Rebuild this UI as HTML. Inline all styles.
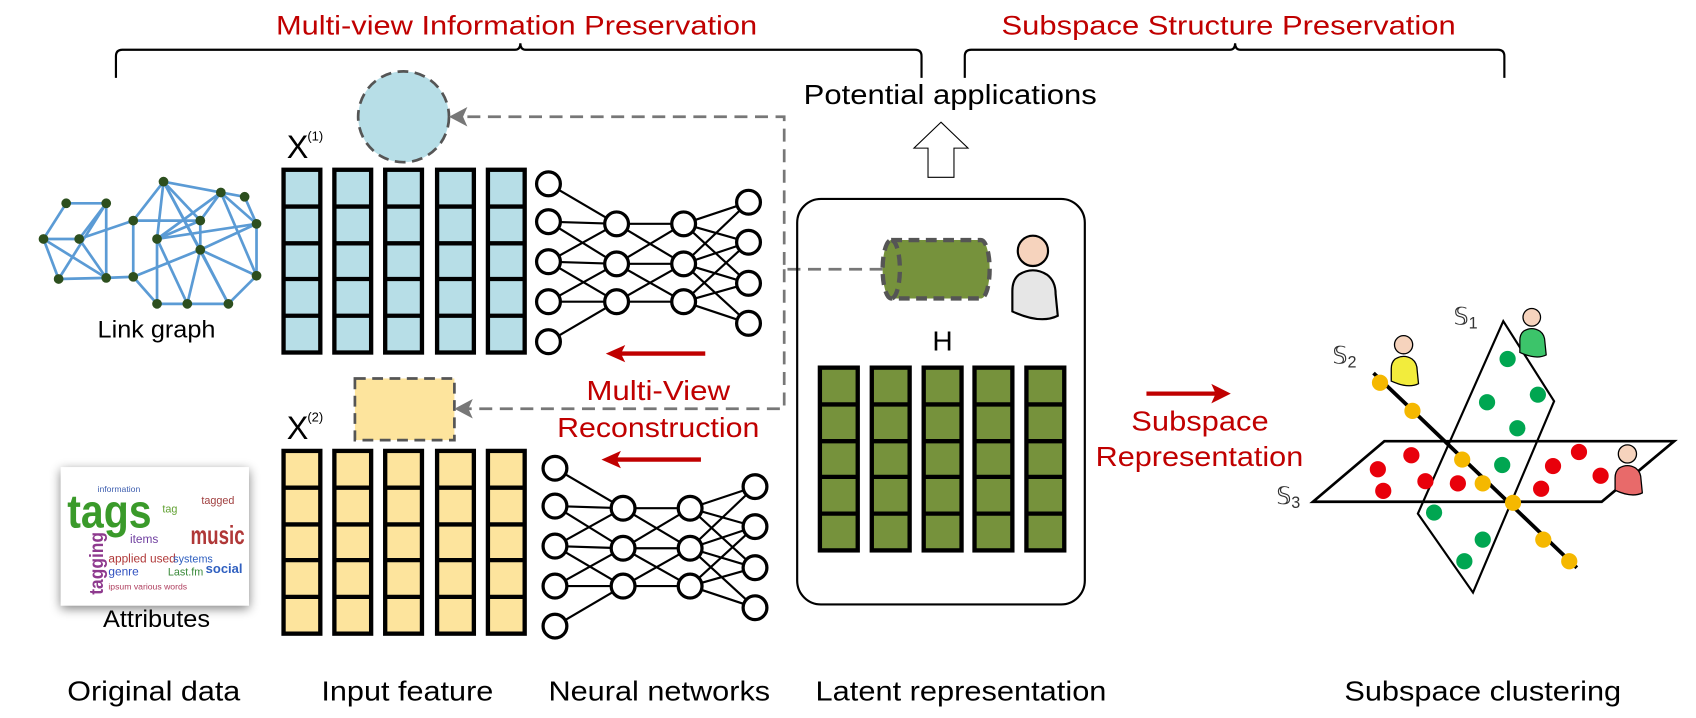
<!DOCTYPE html>
<html><head><meta charset="utf-8"><style>
html,body{margin:0;padding:0;background:#fff;}
svg{display:block;font-family:"Liberation Sans",Arial,sans-serif;}
</style></head><body>
<svg width="1696" height="718" viewBox="0 0 1568 664" xmlns="http://www.w3.org/2000/svg">
<defs>
<g id="colB"><rect x="0" y="0" width="34" height="169" fill="#b7dee7" stroke="#000" stroke-width="4"/><path d="M0,34H34M0,68H34M0,101H34M0,135H34" stroke="#000" stroke-width="4"/></g>
<g id="colY"><rect x="0" y="0" width="34" height="169" fill="#fde49d" stroke="#000" stroke-width="4"/><path d="M0,34H34M0,68H34M0,101H34M0,135H34" stroke="#000" stroke-width="4"/></g>
<g id="colG"><rect x="0" y="0" width="35" height="169" fill="#76923c" stroke="#000" stroke-width="4"/><path d="M0,34H35M0,68H35M0,101H35M0,135H35" stroke="#000" stroke-width="4"/></g>
<g id="nnet">
<g stroke="#000" stroke-width="2">
<line x1="507" y1="170" x2="570" y2="207"/>
<line x1="507" y1="205" x2="570" y2="207"/><line x1="507" y1="205" x2="570" y2="244"/>
<line x1="507" y1="242" x2="570" y2="207"/><line x1="507" y1="242" x2="570" y2="244"/><line x1="507" y1="242" x2="570" y2="279"/>
<line x1="507" y1="279" x2="570" y2="244"/><line x1="507" y1="279" x2="570" y2="279"/>
<line x1="507" y1="316" x2="570" y2="279"/>
<line x1="570" y1="207" x2="632" y2="207"/><line x1="570" y1="207" x2="632" y2="244"/>
<line x1="570" y1="244" x2="632" y2="207"/><line x1="570" y1="244" x2="632" y2="244"/><line x1="570" y1="244" x2="632" y2="279"/>
<line x1="570" y1="279" x2="632" y2="244"/><line x1="570" y1="279" x2="632" y2="279"/>
<line x1="632" y1="207" x2="692" y2="187"/><line x1="632" y1="207" x2="692" y2="224"/><line x1="632" y1="207" x2="692" y2="262"/>
<line x1="632" y1="244" x2="692" y2="187"/><line x1="632" y1="244" x2="692" y2="224"/><line x1="632" y1="244" x2="692" y2="262"/><line x1="632" y1="244" x2="692" y2="299"/>
<line x1="632" y1="279" x2="692" y2="224"/><line x1="632" y1="279" x2="692" y2="262"/><line x1="632" y1="279" x2="692" y2="299"/>
</g>
<g fill="#fff" stroke="#000" stroke-width="3">
<circle cx="507" cy="170" r="11"/><circle cx="507" cy="205" r="11"/><circle cx="507" cy="242" r="11"/><circle cx="507" cy="279" r="11"/><circle cx="507" cy="316" r="11"/>
<circle cx="570" cy="207" r="11"/><circle cx="570" cy="244" r="11"/><circle cx="570" cy="279" r="11"/>
<circle cx="632" cy="207" r="11"/><circle cx="632" cy="244" r="11"/><circle cx="632" cy="279" r="11"/>
<circle cx="692" cy="187" r="11"/><circle cx="692" cy="224" r="11"/><circle cx="692" cy="262" r="11"/><circle cx="692" cy="299" r="11"/>
</g>
</g>
<g id="person">
<path d="M10,40 Q23,32 36,40 Q44,46 44,58 L46,78 Q30,86 4,74 L4,55 Q4,45 10,40 Z" stroke="#000" stroke-width="2"/>
<circle cx="23" cy="18" r="14" fill="#f6d3bd" stroke="#000" stroke-width="2"/>
</g>
<filter id="sh" x="-20%" y="-20%" width="140%" height="140%"><feGaussianBlur in="SourceAlpha" stdDeviation="5"/><feOffset dx="0" dy="3"/><feComponentTransfer><feFuncA type="linear" slope="0.5"/></feComponentTransfer><feMerge><feMergeNode/><feMergeNode in="SourceGraphic"/></feMerge></filter>
</defs>

<text x="255" y="32" font-size="25" fill="#c00000" textLength="445" lengthAdjust="spacingAndGlyphs">Multi-view Information Preservation</text>
<text x="926" y="32" font-size="25" fill="#c00000" textLength="420" lengthAdjust="spacingAndGlyphs">Subspace Structure Preservation</text>
<path d="M107,72 V52 Q107,46 113,46 H476 Q481,46 481,40 Q481,46 486,46 H846 Q852,46 852,52 V72" fill="none" stroke="#000" stroke-width="2"/>
<path d="M892,72 V52 Q892,46 898,46 H1137 Q1142,46 1142,40 Q1142,46 1147,46 H1385 Q1391,46 1391,52 V72" fill="none" stroke="#000" stroke-width="2"/>
<text x="743" y="96" font-size="26" fill="#000" textLength="271" lengthAdjust="spacingAndGlyphs">Potential applications</text>
<path d="M870,113 L895,137 H882 V164 H858 V137 H845 Z" fill="#fff" stroke="#000" stroke-width="1"/>

<g stroke="#5b9bd5" stroke-width="2.5">
<line x1="61" y1="188" x2="98" y2="188"/><line x1="61" y1="188" x2="40" y2="221"/><line x1="98" y1="188" x2="73" y2="221"/><line x1="98" y1="188" x2="54" y2="258"/><line x1="98" y1="188" x2="98" y2="257"/><line x1="40" y1="221" x2="73" y2="221"/><line x1="40" y1="221" x2="54" y2="258"/><line x1="40" y1="221" x2="98" y2="257"/><line x1="73" y1="221" x2="123" y2="204"/><line x1="54" y1="258" x2="98" y2="257"/><line x1="73" y1="221" x2="98" y2="257"/>
<line x1="123" y1="204" x2="151" y2="168"/><line x1="123" y1="204" x2="185" y2="204"/><line x1="123" y1="204" x2="123" y2="256"/><line x1="98" y1="257" x2="123" y2="256"/><line x1="123" y1="256" x2="185" y2="231"/><line x1="123" y1="256" x2="145" y2="281"/>
<line x1="151" y1="168" x2="204" y2="178"/><line x1="151" y1="168" x2="145" y2="221"/><line x1="151" y1="168" x2="185" y2="204"/><line x1="151" y1="168" x2="185" y2="231"/><line x1="151" y1="168" x2="211" y2="281"/>
<line x1="204" y1="178" x2="226" y2="182"/><line x1="204" y1="178" x2="145" y2="221"/><line x1="204" y1="178" x2="237" y2="207"/><line x1="204" y1="178" x2="237" y2="255"/><line x1="204" y1="178" x2="185" y2="204"/>
<line x1="226" y1="182" x2="237" y2="207"/><line x1="185" y1="204" x2="145" y2="221"/><line x1="145" y1="221" x2="237" y2="207"/><line x1="185" y1="204" x2="185" y2="231"/><line x1="145" y1="221" x2="145" y2="281"/><line x1="145" y1="221" x2="173" y2="281"/>
<line x1="237" y1="207" x2="237" y2="255"/><line x1="237" y1="207" x2="185" y2="231"/><line x1="185" y1="231" x2="237" y2="255"/><line x1="185" y1="231" x2="173" y2="281"/><line x1="237" y1="255" x2="211" y2="281"/><line x1="145" y1="281" x2="173" y2="281"/><line x1="173" y1="281" x2="211" y2="281"/><line x1="185" y1="231" x2="211" y2="281"/>
</g>
<g fill="#2d4f1e">
<circle cx="61" cy="188" r="4.5"/><circle cx="98" cy="188" r="4.5"/><circle cx="40" cy="221" r="4.5"/><circle cx="73" cy="221" r="4.5"/><circle cx="54" cy="258" r="4.5"/><circle cx="98" cy="257" r="4.5"/><circle cx="123" cy="204" r="4.5"/><circle cx="123" cy="256" r="4.5"/><circle cx="151" cy="168" r="4.5"/><circle cx="204" cy="178" r="4.5"/><circle cx="226" cy="182" r="4.5"/><circle cx="185" cy="204" r="4.5"/><circle cx="145" cy="221" r="4.5"/><circle cx="237" cy="207" r="4.5"/><circle cx="185" cy="231" r="4.5"/><circle cx="237" cy="255" r="4.5"/><circle cx="145" cy="281" r="4.5"/><circle cx="173" cy="281" r="4.5"/><circle cx="211" cy="281" r="4.5"/>
</g>
<text x="90" y="312" font-size="22" textLength="109" lengthAdjust="spacingAndGlyphs">Link graph</text>

<rect x="56" y="432" width="174" height="128" fill="#fff" filter="url(#sh)"/>
<text x="62" y="488" font-size="44" font-weight="bold" fill="#3a9a2a" textLength="78" lengthAdjust="spacingAndGlyphs">tags</text>
<text x="176" y="503" font-size="24" font-weight="bold" fill="#b03838" textLength="50" lengthAdjust="spacingAndGlyphs">music</text>
<text transform="translate(95,550) rotate(-90)" font-size="18" font-weight="bold" fill="#8e3a8e" textLength="58" lengthAdjust="spacingAndGlyphs">tagging</text>
<text x="120" y="502" font-size="11" fill="#7040a0">items</text>
<text x="100" y="520" font-size="11" fill="#b03838">applied used</text>
<text x="100" y="532" font-size="11" fill="#3050c0">genre</text>
<text x="160" y="520" font-size="10" fill="#3060c0">systems</text>
<text x="190" y="530" font-size="12" font-weight="bold" fill="#3060c0">social</text>
<text x="155" y="532" font-size="10" fill="#3a8a3a">Last.fm</text>
<text x="150" y="474" font-size="10" fill="#60a030">tag</text>
<text x="186" y="466" font-size="10" fill="#a04040">tagged</text>
<text x="100" y="545" font-size="8" fill="#b04060">ipsum various words</text>
<text x="90" y="455" font-size="8" fill="#4060b0">information</text>
<text x="95" y="580" font-size="22" textLength="99" lengthAdjust="spacingAndGlyphs">Attributes</text>

<text x="265" y="146" font-size="30">X</text><text x="284" y="130" font-size="12">(1)</text>
<text x="265" y="406" font-size="30">X</text><text x="284" y="390" font-size="12">(2)</text>

<ellipse cx="373" cy="108" rx="42" ry="42" fill="#b7dee7" stroke="#555" stroke-width="2.5" stroke-dasharray="10,6"/>
<rect x="328" y="350" width="92" height="57" fill="#fde49d" stroke="#555" stroke-width="2.5" stroke-dasharray="10,6"/>

<use href="#colB" x="262" y="157"/><use href="#colB" x="309" y="157"/><use href="#colB" x="356" y="157"/><use href="#colB" x="404" y="157"/><use href="#colB" x="451" y="157"/>
<use href="#colY" x="262" y="417"/><use href="#colY" x="309" y="417"/><use href="#colY" x="356" y="417"/><use href="#colY" x="404" y="417"/><use href="#colY" x="451" y="417"/>

<use href="#nnet"/>
<use href="#nnet" transform="translate(6,263)"/>

<path d="M816,249 H725 V108 H420 M725,249 V378 H424" fill="none" stroke="#777" stroke-width="2.5" stroke-dasharray="12,7"/>
<path d="M415,108 L432,99 L428,108 L432,117 Z" fill="#777"/>
<path d="M420,378 L437,369 L433,378 L437,387 Z" fill="#777"/>

<path d="M652,327 H572" stroke="#c00000" stroke-width="4"/><path d="M560,327 L578,319 L574,327 L578,335 Z" fill="#c00000"/>
<path d="M648,425 H568" stroke="#c00000" stroke-width="4"/><path d="M556,425 L574,417 L570,425 L574,433 Z" fill="#c00000"/>
<text x="542" y="370" font-size="26" fill="#c00000" textLength="133" lengthAdjust="spacingAndGlyphs">Multi-View</text>
<text x="515" y="404" font-size="26" fill="#c00000" textLength="187" lengthAdjust="spacingAndGlyphs">Reconstruction</text>
<path d="M1060,364 H1124" stroke="#c00000" stroke-width="4"/><path d="M1138,364 L1120,355 L1124,364 L1120,373 Z" fill="#c00000"/>
<text x="1046" y="398" font-size="26" fill="#c00000" textLength="127" lengthAdjust="spacingAndGlyphs">Subspace</text>
<text x="1013" y="431" font-size="26" fill="#c00000" textLength="192" lengthAdjust="spacingAndGlyphs">Representation</text>

<rect x="737" y="184" width="266" height="375" rx="22" fill="none" stroke="#000" stroke-width="2"/>
<path d="M824,222 H907 A8,27 0 0 1 907,276 H824 A8,27 0 0 1 824,222 Z" fill="#76923c" stroke="#555" stroke-width="4" stroke-dasharray="10,6"/>
<path d="M824,222 A8,27 0 0 1 824,276" fill="none" stroke="#555" stroke-width="4" stroke-dasharray="10,6"/>
<use href="#person" x="932" y="214" fill="#e6e6e6"/>
<text x="862" y="324" font-size="26">H</text>
<use href="#colG" x="758" y="340"/><use href="#colG" x="806" y="340"/><use href="#colG" x="854" y="340"/><use href="#colG" x="901" y="340"/><use href="#colG" x="949" y="340"/>

<path d="M1280,408 H1548 L1481,464 H1214 Z" fill="none" stroke="#000" stroke-width="2.5"/>
<path d="M1390,297 L1437,371 L1362,548 L1311,475 Z" fill="none" stroke="#000" stroke-width="2"/>
<line x1="1270" y1="345" x2="1458" y2="525" stroke="#000" stroke-width="3.5"/>
<g fill="#e8000b">
<circle cx="1274" cy="434" r="7.5"/><circle cx="1305" cy="421" r="7.5"/><circle cx="1279" cy="454" r="7.5"/><circle cx="1318" cy="445" r="7.5"/><circle cx="1348" cy="447" r="7.5"/><circle cx="1436" cy="431" r="7.5"/><circle cx="1460" cy="418" r="7.5"/><circle cx="1480" cy="440" r="7.5"/><circle cx="1425" cy="452" r="7.5"/>
</g>
<g fill="#00a651">
<circle cx="1394" cy="332" r="7.5"/><circle cx="1375" cy="372" r="7.5"/><circle cx="1422" cy="365" r="7.5"/><circle cx="1403" cy="396" r="7.5"/><circle cx="1389" cy="430" r="7.5"/><circle cx="1326" cy="474" r="7.5"/><circle cx="1371" cy="499" r="7.5"/><circle cx="1354" cy="519" r="7.5"/>
</g>
<g fill="#f5b800">
<circle cx="1276" cy="354" r="7.5"/><circle cx="1306" cy="380" r="7.5"/><circle cx="1352" cy="425" r="7.5"/><circle cx="1371" cy="447" r="7.5"/><circle cx="1399" cy="465" r="7.5"/><circle cx="1427" cy="499" r="7.5"/><circle cx="1451" cy="519" r="7.5"/>
</g>
<use href="#person" transform="translate(1284,308) scale(0.6)" fill="#f2ec3c"/>
<use href="#person" transform="translate(1403,283) scale(0.58)" fill="#3cc46a"/>
<use href="#person" transform="translate(1491,409) scale(0.6)" fill="#e86a6a"/>
<text x="1344" y="300" font-size="22" fill="#333">𝕊<tspan font-size="15" dy="4">1</tspan></text>
<text x="1232" y="336" font-size="22" fill="#333">𝕊<tspan font-size="15" dy="4">2</tspan></text>
<text x="1180" y="466" font-size="22" fill="#333">𝕊<tspan font-size="15" dy="4">3</tspan></text>

<g font-size="26">
<text x="62" y="648" textLength="160" lengthAdjust="spacingAndGlyphs">Original data</text>
<text x="297" y="648" textLength="159" lengthAdjust="spacingAndGlyphs">Input feature</text>
<text x="507" y="648" textLength="205" lengthAdjust="spacingAndGlyphs">Neural networks</text>
<text x="754" y="648" textLength="269" lengthAdjust="spacingAndGlyphs">Latent representation</text>
<text x="1243" y="648" textLength="256" lengthAdjust="spacingAndGlyphs">Subspace clustering</text>
</g>
</svg>
</body></html>
